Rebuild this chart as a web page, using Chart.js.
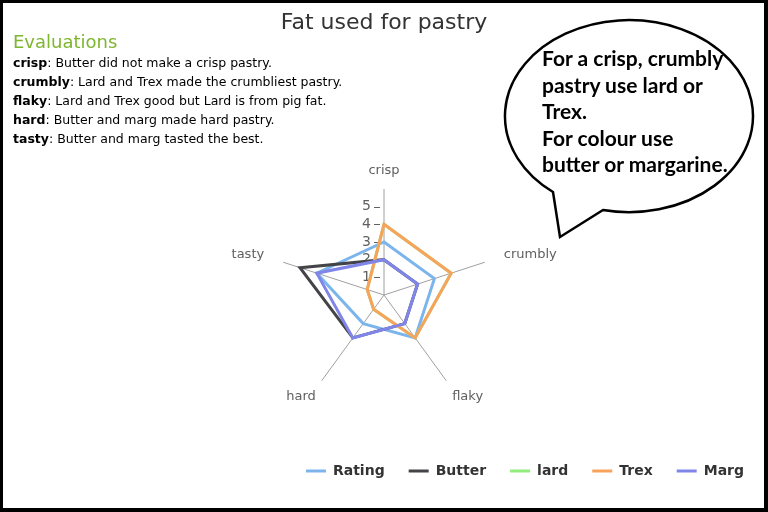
<!DOCTYPE html>
<html>
<head>
<meta charset="utf-8">
<script src="https://cdn.jsdelivr.net/npm/chart.js@4"></script>
<style>
  html, body { margin: 0; padding: 0; background: #fff; }
  #wrap { position: relative; width: 768px; height: 512px; overflow: hidden; background: #fff; }
  #c { position: absolute; left: 0; top: 0; }
  #border { position: absolute; left: 0; top: 0; width: 768px; height: 512px; box-sizing: border-box;
            border-top: 3px solid #000; border-left: 3px solid #000; border-right: 4px solid #000; border-bottom: 4px solid #000; pointer-events: none; }
  #evals { position: absolute; left: 13px; top: 31px; font-family: "DejaVu Sans", sans-serif; color: #000; }
  #evals .head { font-size: 18px; line-height: 22px; color: #7eb62e; }
  #evals .line { font-size: 12.5px; line-height: 19px; white-space: nowrap; }
  #bubble { position: absolute; left: 0; top: 0; }
  #btext { position: absolute; left: 542px; top: 45px; font-family: Lato, "Open Sans", sans-serif; font-weight: bold;
           font-size: 21px; line-height: 26.5px; color: #000; white-space: nowrap; }
</style>
</head>
<body>
<div id="wrap">
  <canvas id="c" width="768" height="512"></canvas>
  <div id="evals"></div>
  <svg id="bubble" width="768" height="512">
    <path d="M 553 192 A 124 96 0 1 1 603 210 L 560 237 Z" fill="#fff" stroke="#000" stroke-width="2.5" stroke-linejoin="miter"/>
  </svg>
  <div id="btext">For a crisp, crumbly<br>pastry use lard or<br>Trex.<br>For colour use<br>butter or margarine.</div>
  <div id="border"></div>
</div>
<script>
const categories = ['crisp', 'crumbly', 'flaky', 'hard', 'tasty'];
const ratingValues = [3, 3, 3, 2, 4];
const butterValues = [2, 2, 2, 3, 5];
const lardValues   = [4, 4, 3, 1, 1];
const trexValues   = [4, 4, 3, 1, 1];
const margValues   = [2, 2, 2, 3, 4];
const tickLabels = [1, 2, 3, 4, 5];
const seriesNames = ['Rating', 'Butter', 'lard', 'Trex', 'Marg'];
const seriesColors = ['#7cb5ec', '#434348', '#90ed7d', '#f7a35c', '#8085e9'];
const evalKeys = ['crisp', 'crumbly', 'flaky', 'hard', 'tasty'];
const evalTexts = [
  ': Butter did not make a crisp pastry.',
  ': Lard and Trex made the crumbliest pastry.',
  ': Lard and Trex good but Lard is from pig fat.',
  ': Butter and marg made hard pastry.',
  ': Butter and marg tasted the best.'
];

// Evaluations text block
const ev = document.getElementById('evals');
let html = '<div class="head">Evaluations</div>';
evalKeys.forEach((k, i) => { html += '<div class="line"><b>' + k + '</b>' + evalTexts[i] + '</div>'; });
ev.innerHTML = html;

const seriesData = [ratingValues, butterValues, lardValues, trexValues, margValues];
const labelPadding = [11, 20, 10, 10, 20];
const labelLineHeight = [1.2, 0.25, 1.2, 1.2, 0.25];

const tickPlugin = {
  id: 'radialTicks',
  beforeDatasetsDraw(chart) {
    const s = chart.scales.r;
    const ctx = chart.ctx;
    ctx.save();
    ctx.font = '14px "DejaVu Sans"';
    ctx.fillStyle = '#606060';
    ctx.strokeStyle = '#606060';
    ctx.lineWidth = 1;
    ctx.textAlign = 'right';
    ctx.textBaseline = 'middle';
    tickLabels.forEach(v => {
      const y = s.yCenter - s.getDistanceFromCenterForValue(v);
      ctx.fillText(String(v), s.xCenter - 13, y);
      ctx.beginPath();
      ctx.moveTo(s.xCenter - 10, Math.round(y) + 0.5);
      ctx.lineTo(s.xCenter - 4, Math.round(y) + 0.5);
      ctx.stroke();
    });
    ctx.restore();
  }
};

new Chart(document.getElementById('c'), {
  type: 'radar',
  data: {
    labels: categories,
    datasets: seriesNames.map((n, i) => ({
      label: n,
      data: seriesData[i],
      order: seriesNames.length - i,
      borderColor: seriesColors[i],
      backgroundColor: seriesColors[i],
      borderWidth: 3,
      fill: false,
      pointRadius: 0,
      pointHoverRadius: 0,
      tension: 0
    }))
  },
  options: {
    responsive: false,
    animation: false,
    layout: { padding: { left: 0, right: 0, top: 0, bottom: 24 } },
    scales: {
      r: {
        min: 0,
        max: 6,
        beginAtZero: true,
        ticks: { display: false, stepSize: 1 },
        grid: { display: false },
        angleLines: { display: true, color: '#a0a0a0', lineWidth: 1 },
        pointLabels: {
          font: (ctx) => ({ family: 'DejaVu Sans', size: 13, lineHeight: labelLineHeight[ctx.index] }),
          color: '#606060',
          padding: (ctx) => labelPadding[ctx.index]
        }
      }
    },
    plugins: {
      title: {
        display: true,
        text: 'Fat used for pastry',
        color: '#333333',
        font: { family: 'DejaVu Sans', size: 22, weight: 'normal' },
        padding: { top: 10, bottom: 113 }
      },
      subtitle: {
        display: true,
        text: '',
        position: 'bottom',
        weight: 100,
        font: { size: 10 },
        padding: { top: 12.5, bottom: 0 }
      },
      legend: {
        position: 'bottom',
        align: 'end',
        labels: {
          usePointStyle: true,
          pointStyle: 'line',
          pointStyleWidth: 20,
          padding: 24,
          color: '#333333',
          font: { family: 'DejaVu Sans', size: 14, weight: 'bold' },
          sort: (a, b) => a.datasetIndex - b.datasetIndex
        }
      },
      tooltip: { enabled: false }
    }
  },
  plugins: [tickPlugin]
});
</script>
</body>
</html>
